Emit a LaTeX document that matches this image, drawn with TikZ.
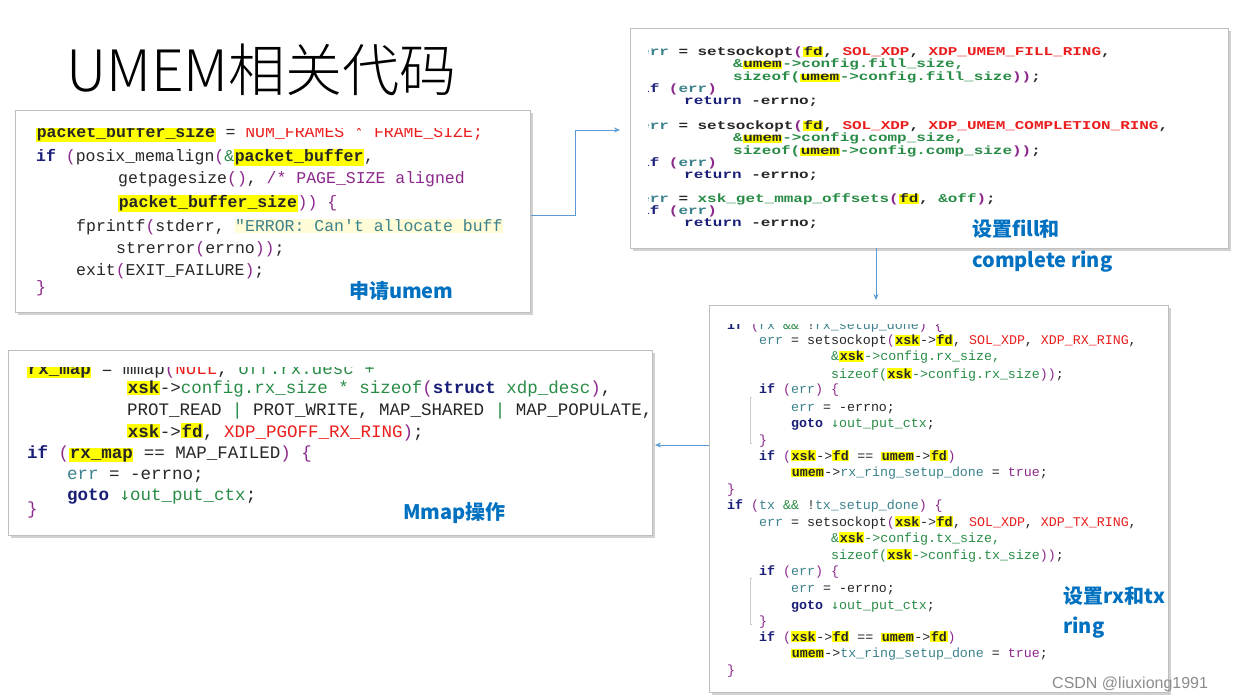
\documentclass[tikz,border=0pt]{standalone}
\usepackage{fontspec}
\setmainfont{Liberation Sans}
\newfontfamily\cjk{Noto Sans CJK SC}
\newfontfamily\cjklight{Noto Sans CJK SC Light}
\newfontfamily\cmono{Liberation Mono}
\newfontfamily\bmono[FakeStretch=1.33]{Liberation Mono}
\newfontfamily\dmono{DejaVu Sans Mono}
\definecolor{hly}{RGB}{255,255,0}
\definecolor{strbg}{RGB}{255,252,215}
\definecolor{ckw}{RGB}{25,30,120}
\definecolor{cred}{RGB}{235,30,30}
\definecolor{cgrn}{RGB}{40,140,70}
\definecolor{cpur}{RGB}{140,40,140}
\definecolor{ctl}{RGB}{60,130,140}
\definecolor{lab}{RGB}{0,112,192}
\definecolor{conn}{RGB}{91,155,213}
\newcommand\hl[1]{{\setlength{\fboxsep}{0.6pt}\colorbox{hly}{\bfseries #1}}}
\newcommand\kw[1]{\textcolor{ckw}{\bfseries #1}}
\newcommand\rd[1]{\textcolor{cred}{#1}}
\newcommand\gn[1]{\textcolor{cgrn}{#1}}
\newcommand\pu[1]{\textcolor{cpur}{#1}}
\newcommand\tl[1]{\textcolor{ctl}{#1}}
\newcommand\dn{{\dmono\textcolor{cgrn}{↓}}}
\usetikzlibrary{arrows.meta}
\tikzset{
  cl/.style={anchor=base west,inner sep=0pt,text=black!85},
  fa/.style={cl,font=\cmono\fontsize{16.5}{18}\selectfont},
  fb/.style={cl,font=\bmono\bfseries\fontsize{12}{13}\selectfont},
  fc/.style={cl,font=\cmono\fontsize{17.5}{19}\selectfont},
  fd/.style={cl,font=\cmono\fontsize{13.3}{15}\selectfont},
  shot/.style={draw=black!25,fill=white,line width=1pt},
  shadow/.style={fill=black!18},
  lbl/.style={anchor=base west,inner sep=0pt,text=lab,font=\cjk\bfseries\fontsize{20}{24}\selectfont},
  arr/.style={draw=conn,line width=0.8pt,-{Stealth[length=6pt,width=5pt]}}
}
\begin{document}
\begin{tikzpicture}[x=1pt,y=-1pt]
\useasboundingbox (0,0) rectangle (1234,700);
\fill[white] (0,0) rectangle (1234,700);
\node[anchor=west,inner sep=0pt,font=\cjklight\fontsize{57}{62}\selectfont] (title) at (66,70) {UMEM相关代码};
% ---------- box A
\fill[shadow] (18,113) rectangle (533,315);
\node[shot,anchor=north west,minimum width=515pt,minimum height=202pt,inner sep=0pt] (A) at (15,110) {};
\begin{scope}
\clip (17,129) rectangle (528,310);
\node[fa] (a1) at (36,138) {\hl{packet\_buffer\_size} = \rd{NUM\_FRAMES * FRAME\_SIZE;}};
\end{scope}
\node[fa] (a2) at (36,162) {\kw{if} \pu{(}posix\_memalign\pu{(}\gn{\&}\hl{packet\_buffer},};
\node[fa] (a3) at (118,184) {getpagesize\pu{()}, \pu{/* PAGE\_SIZE aligned}};
\node[fa] (a4) at (118,208) {\hl{packet\_buffer\_size}\pu{)) \{}};
\node[fa] (a5) at (76,232) {fprintf\pu{(}stderr, {\setlength{\fboxsep}{0.6pt}\colorbox{strbg}{\textcolor{ctl}{"ERROR: Can't allocate buff}}}};
\node[fa] (a6) at (116,254) {strerror\pu{(}errno\pu{))};};
\node[fa] (a7) at (76,276) {exit\pu{(}EXIT\_FAILURE\pu{)};};
\node[fa] (a8) at (36,293) {\pu{\}}};
\node[lbl] (la) at (349,299) {申请umem};
% ---------- box B
\fill[shadow] (633,31) rectangle (1231,251);
\node[shot,anchor=north west,minimum width=598pt,minimum height=220pt,inner sep=0pt] (B) at (630,28) {};
\begin{scope}
\clip (648,35) rectangle (1226,246);
\node[fb] (b1) at (640,56) {\tl{err} = setsockopt\pu{(}\hl{fd}, \rd{SOL\_XDP}, \rd{XDP\_UMEM\_FILL\_RING},};
\node[fb] (b4) at (640,93) {\kw{if} \pu{(}\tl{err}\pu{)}};
\node[fb] (b6) at (640,130) {\tl{err} = setsockopt\pu{(}\hl{fd}, \rd{SOL\_XDP}, \rd{XDP\_UMEM\_COMPLETION\_RING},};
\node[fb] (b9) at (640,167) {\kw{if} \pu{(}\tl{err}\pu{)}};
\node[fb] (b11) at (640,203) {\tl{err} = \gn{xsk\_get\_mmap\_offsets}\pu{(}\hl{fd}, \gn{\&off}\pu{)};};
\node[fb] (b12) at (640,215) {\kw{if} \pu{(}\tl{err}\pu{)}};
\end{scope}
\node[fb] (b2) at (733,68) {\gn{\&}\hl{umem}\gn{->config.fill\_size,}};
\node[fb] (b3) at (733,81) {\gn{sizeof(}\hl{umem}\gn{->config.fill\_size}\pu{))};};
\node[fb] (b5) at (684,105) {\kw{return} -errno;};
\node[fb] (b7) at (733,142) {\gn{\&}\hl{umem}\gn{->config.comp\_size,}};
\node[fb] (b8) at (733,155) {\gn{sizeof(}\hl{umem}\gn{->config.comp\_size}\pu{))};};
\node[fb] (b10) at (684,179) {\kw{return} -errno;};
\node[fb] (b13) at (684,227) {\kw{return} -errno;};
\node[lbl] (lb1) at (972,237) {设置fill和};
\node[lbl] (lb2) at (972,268) {complete ring};
% ---------- box C
\fill[shadow] (11,353) rectangle (655,538);
\node[shot,anchor=north west,minimum width=644pt,minimum height=185pt,inner sep=0pt] (C) at (8,350) {};
\begin{scope}
\clip (10,368) rectangle (650,533);
\node[fc] (c1) at (27,374) {\hl{rx\_map} = mmap\pu{(}\rd{NULL}, \gn{off.rx.desc +}};
\end{scope}
\node[fc] (c2) at (127,394) {\hl{xsk}->\gn{config.rx\_size * sizeof}\pu{(}\kw{struct} \gn{xdp\_desc}\pu{)},};
\node[fc] (c3) at (127,415) {PROT\_READ \gn{|} PROT\_WRITE, MAP\_SHARED \gn{|} MAP\_POPULATE,};
\node[fc] (c4) at (127,437) {\hl{xsk}->\hl{fd}, \rd{XDP\_PGOFF\_RX\_RING}\pu{)};};
\node[fc] (c5) at (27,458) {\kw{if} \pu{(}\hl{rx\_map} == MAP\_FAILED\pu{) \{}};
\node[fc] (c6) at (67,479) {\tl{err} = -errno;};
\node[fc] (c7) at (67,500) {\kw{goto} \dn\gn{out\_put\_ctx};};
\node[fc] (c8) at (27,514) {\pu{\}}};
\node[lbl] (lc) at (403,519) {Mmap操作};
% ---------- box D
\fill[shadow] (712,308) rectangle (1171,695);
\node[shot,anchor=north west,minimum width=459pt,minimum height=387pt,inner sep=0pt] (D) at (709,305) {};
\begin{scope}
\clip (711,325) rectangle (1166,690);
\node[fd] (d1) at (727,330) {\kw{if} \pu{(}\tl{rx} \gn{\&\&} !\tl{rx\_setup\_done}\pu{) \{}};
\end{scope}
\foreach \o/\r/\R in {0/rx/RX,181/tx/TX}{
  \node[fd] at (759,345+\o) {\tl{err} = setsockopt\pu{(}\hl{xsk}->\hl{fd}, \rd{SOL\_XDP}, \rd{XDP\_\R\_RING},};
  \node[fd] at (831,361+\o) {\gn{\&}\hl{xsk}\gn{->config.\r\_size,}};
  \node[fd] at (831,378+\o) {\gn{sizeof(}\hl{xsk}\gn{->config.\r\_size}\pu{))};};
  \node[fd] at (759,394+\o) {\kw{if} \pu{(}\tl{err}\pu{) \{}};
  \node[fd] at (791,411+\o) {\tl{err} = -errno;};
  \node[fd] at (791,428+\o) {\kw{goto} \dn\gn{out\_put\_ctx};};
  \node[fd] at (759,444+\o) {\pu{\}}};
  \node[fd] at (759,460+\o) {\kw{if} \pu{(}\hl{xsk}->\hl{fd} == \hl{umem}->\hl{fd}\pu{)}};
  \node[fd] at (791,476+\o) {\hl{umem}->\tl{\r\_ring\_setup\_done} = \pu{true};};
  \node[fd] at (727,493+\o) {\pu{\}}};
}
\node[fd] (d12) at (727,509) {\kw{if} \pu{(}\tl{tx} \gn{\&\&} !\tl{tx\_setup\_done}\pu{) \{}};
\draw[black!20] (752,397) -- (750,397) -- (750,443) -- (752,443);
\draw[black!20] (752,578) -- (750,578) -- (750,624) -- (752,624);
\node[lbl] (ld1) at (1063,603) {设置rx和tx};
\node[lbl] (ld2) at (1063,633) {ring};
% ---------- connectors
\coordinate (k1) at (575,215);
\coordinate (k2) at (575,130);
\coordinate (k3) at (620,130);
\coordinate (k4) at (876,248);
\coordinate (k5) at (876,300);
\coordinate (k6) at (709,445);
\coordinate (k7) at (655,445);
\draw[arr] (A.east |- k1) -- (k1) -- (k2) -- (k3);
\draw[arr] (k4) -- (k5);
\draw[arr] (k6) -- (k7);
% ---------- watermark
\node[anchor=base west,inner sep=0pt,text=black!45,font=\fontsize{16}{18}\selectfont] (wm) at (1052,688) {CSDN @liuxiong1991};
\end{tikzpicture}
\end{document}
